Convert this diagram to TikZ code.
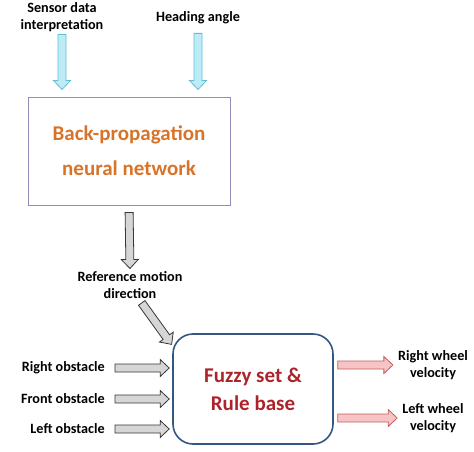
\documentclass[tikz,border=0pt]{standalone}
\usepackage{fontspec}
\setmainfont{Carlito}
\usetikzlibrary{calc}
\definecolor{cyanfill}{RGB}{190,236,246}
\definecolor{cyanline}{RGB}{95,190,212}
\definecolor{grayfill}{RGB}{214,214,214}
\definecolor{grayline}{RGB}{55,55,55}
\definecolor{pinkfill}{RGB}{246,196,196}
\definecolor{pinkline}{RGB}{196,92,92}
\definecolor{nnline}{RGB}{150,140,185}
\definecolor{fuzzyline}{RGB}{52,86,130}
\definecolor{nntext}{RGB}{216,116,42}
\definecolor{fuzzytext}{RGB}{172,36,42}
\tikzset{
  txt/.style={font=\bfseries\fontsize{14.2}{16.5}\selectfont, align=center, inner sep=2pt},
  boxtxt/.style={font=\bfseries\fontsize{21}{#1}\selectfont, align=center},
  fat arrow/.style 2 args={line width=0.8pt, line join=miter,
    to path={let \p1=(\tikztostart), \p2=(\tikztotarget),
      \p3=($(\p1)!#1!(\p2)$), \p4=($(\p2)!#2!(\p1)$), \p5=($(\p4)!9pt!(\p3)$) in
      ($(\p3)!4pt!90:(\p4)$) -- ($(\p5)!4pt!90:(\p4)$) -- ($(\p5)!8.5pt!90:(\p4)$)
      -- (\p4) -- ($(\p5)!8.5pt!-90:(\p4)$) -- ($(\p5)!4pt!-90:(\p4)$)
      -- ($(\p3)!4pt!-90:(\p4)$) -- cycle}},
  cyanarrow/.style={draw=cyanline, fill=cyanfill},
  grayarrow/.style={draw=grayline, fill=grayfill},
  pinkarrow/.style={draw=pinkline, fill=pinkfill}
}
\begin{document}
\begin{tikzpicture}[x=1pt, y=-1pt]
  \useasboundingbox (0,0) rectangle (474,452);
  \node[draw=nnline, line width=1pt, minimum width=202pt, minimum height=108pt,
    boxtxt=35, text=nntext] (bpnn) at (129,151) {Back-propagation\\neural network};
  \node[draw=fuzzyline, line width=1.6pt, rounded corners=20pt, minimum width=160pt,
    minimum height=110pt, boxtxt=28, text=fuzzytext] (fuzzy) at (253,389) {Fuzzy set \&\\Rule base};
  \node[txt] (sensor) at (62,17) {Sensor data\\interpretation};
  \node[txt] (heading) at (198,18) {Heading angle};
  \node[txt] (ref) at (130,285) {Reference motion\\direction};
  \node[txt, anchor=east] (rightobs) at (107,368) {Right obstacle};
  \node[txt, anchor=east] (frontobs) at (107,399) {Front obstacle};
  \node[txt, anchor=east] (leftobs) at (107,429) {Left obstacle};
  \node[txt] (rightvel) at (433,365) {Right wheel\\velocity};
  \node[txt] (leftvel) at (433,418) {Left wheel\\velocity};
  \begin{scope}[fat arrow]
    \draw[cyanarrow, fat arrow={1pt}{7pt}] (sensor.south) to (sensor.south |- bpnn.north);
    \draw[cyanarrow, fat arrow={7pt}{7pt}] (heading.south) to (heading.south |- bpnn.north);
    \draw[grayarrow, fat arrow={7pt}{1pt}] (bpnn.south) to (ref.north);
    \draw[grayarrow, fat arrow={3pt}{1pt}] ([xshift=10pt]ref.south) to ([yshift=-12pt]fuzzy.north west);
    \draw[grayarrow, fat arrow={8pt}{3pt}] (rightobs.east) to (rightobs.east -| fuzzy.west);
    \draw[grayarrow, fat arrow={8pt}{3pt}] (frontobs.east) to (frontobs.east -| fuzzy.west);
    \draw[grayarrow, fat arrow={8pt}{3pt}] (leftobs.east) to (leftobs.east -| fuzzy.west);
    \draw[pinkarrow, fat arrow={4pt}{3pt}] (rightvel.west -| fuzzy.east) to (rightvel.west);
    \draw[pinkarrow, fat arrow={4pt}{3pt}] (leftvel.west -| fuzzy.east) to (leftvel.west);
  \end{scope}
\end{tikzpicture}
\end{document}
